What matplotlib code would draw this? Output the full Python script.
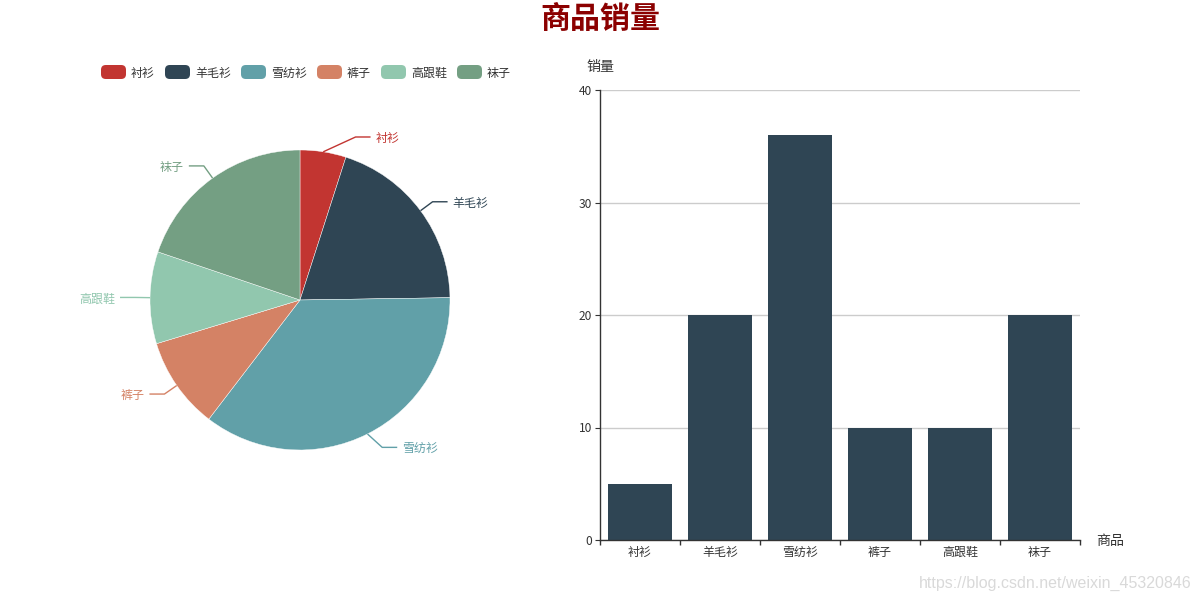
import numpy as np
import matplotlib
matplotlib.use("Agg")
import matplotlib.pyplot as plt
from matplotlib.patches import FancyBboxPatch

plt.rcParams['font.family'] = ['Noto Sans CJK SC', 'DejaVu Sans']

# ---------------- data ----------------
title = "商品销量"
categories = ["衬衫", "羊毛衫", "雪纺衫", "裤子", "高跟鞋", "袜子"]
sales = [5, 20, 36, 10, 10, 20]
colors = ["#c23531", "#2f4554", "#61a0a8", "#d48265", "#91c7ae", "#749f83"]
bar_color = "#2f4554"
y_ticks = [0, 10, 20, 30, 40]
y_name = "销量"
x_name = "商品"
watermark = "https://blog.csdn.net/weixin_45320846"

W, H = 1200, 600
DPI = 100
PX = 72.0 / DPI  # points per pixel

fig = plt.figure(figsize=(W / DPI, H / DPI), dpi=DPI)
fig.patch.set_facecolor("white")

# ---------------- title ----------------
fig.text(0.5, 1 - 16 / H, title, ha="center", va="center_baseline",
         fontsize=30 * PX, fontweight="bold", color="#8B0000")

# ---------------- pie ----------------
axp = fig.add_axes([0, 0, 0.5, 1])
unit = 150.0  # px per data unit (radius 150px)
wedges, _ = axp.pie(sales, colors=colors, startangle=90, counterclock=False,
                    radius=1.0, center=(0, 0),
                    wedgeprops=dict(edgecolor="white", linewidth=0.3))
axp.set_xlim(-2, 2)
axp.set_ylim(-2, 2)
axp.set_aspect("equal")
axp.axis("off")

total = float(sum(sales))
start = 0.0
label_nudge = {0: 30, 2: 8}  # horizontal shift (px) of some labels, echarts-like layout
for i, (name, v) in enumerate(zip(categories, sales)):
    span = v / total * 2 * np.pi
    mid = start + span / 2
    start += span
    dx, dy = np.sin(mid), np.cos(mid)
    x1, y1 = dx * 1.0, dy * 1.0
    x2, y2 = dx * (1 + 15 / unit), dy * (1 + 15 / unit)
    side = 1 if dx >= 0 else -1
    x2 += side * label_nudge.get(i, 0) / unit
    x3 = x2 + side * 15 / unit
    axp.plot([x1, x2, x3], [y1, y2, y2], color=colors[i], lw=1, solid_capstyle="butt")
    axp.text(x3 + side * 5 / unit, y2, name, ha="left" if side > 0 else "right",
             va="center_baseline", fontsize=12 * PX, color=colors[i])

# ---------------- legend ----------------
fig.canvas.draw()
renderer = fig.canvas.get_renderer()
widths = []
for name in categories:
    t = fig.text(0, 0, name, fontsize=12 * PX)
    bb = t.get_window_extent(renderer)
    widths.append(bb.width)
    t.remove()
rect_w, rect_h, gap_t, gap_i = 25, 14, 5, 10
total_w = sum(rect_w + gap_t + w for w in widths) + gap_i * (len(widths) - 1)
x = 306 - total_w / 2
yc = 72
for name, c, w in zip(categories, colors, widths):
    p = FancyBboxPatch(((x) / W, (H - yc - rect_h / 2) / H), rect_w / W, rect_h / H,
                       boxstyle="round,pad=0,rounding_size=0.004",
                       transform=fig.transFigure, facecolor=c, edgecolor="none",
                       mutation_aspect=2)
    fig.add_artist(p)
    fig.text((x + rect_w + gap_t) / W, 1 - yc / H, name, ha="left",
             va="center_baseline", fontsize=12 * PX, color="#333333")
    x += rect_w + gap_t + w + gap_i

# ---------------- bar ----------------
axb = fig.add_axes([600 / W, 60 / H, 480 / W, 450 / H])
xpos = np.arange(len(categories))
axb.bar(xpos, sales, width=0.8, color=bar_color, zorder=2)
axb.set_xlim(-0.5, len(categories) - 0.5)
axb.set_ylim(y_ticks[0], y_ticks[-1])
axb.set_yticks(y_ticks)
axb.set_yticklabels([str(t) for t in y_ticks])
axb.yaxis.grid(True, color="#cccccc", lw=1, zorder=0)
axb.set_xticks(xpos)
axb.set_xticklabels(categories)
axb.set_xticks(np.arange(len(categories) + 1) - 0.5, minor=True)
axb.tick_params(axis="x", which="major", length=0, pad=6 * PX, labelsize=12 * PX, labelcolor="#333333")
axb.tick_params(axis="x", which="minor", length=5 * PX, color="#333333", width=1)
axb.tick_params(axis="y", length=5 * PX, color="#333333", pad=3 * PX,
                labelsize=12 * PX, labelcolor="#333333")
for s in ["top", "right"]:
    axb.spines[s].set_visible(False)
for s in ["left", "bottom"]:
    axb.spines[s].set_color("#333333")
    axb.spines[s].set_linewidth(1)
axb.set_facecolor("white")
axb.annotate(y_name, xy=(0, 1), xycoords="axes fraction", xytext=(0, 24 * PX),
             textcoords="offset points", ha="center", va="center_baseline",
             fontsize=14 * PX, color="#333333")
axb.annotate(x_name, xy=(1, 0), xycoords="axes fraction", xytext=(16 * PX, 0),
             textcoords="offset points", ha="left", va="center_baseline",
             fontsize=14 * PX, color="#333333")

# ---------------- watermark ----------------
fig.text(1192 / W, 1 - 582 / H, watermark, ha="right", va="center_baseline",
         fontsize=16 * PX, color="#d9d9d9", family=["Liberation Sans", "DejaVu Sans"])

fig.savefig("out.png", dpi=DPI, facecolor="white")
